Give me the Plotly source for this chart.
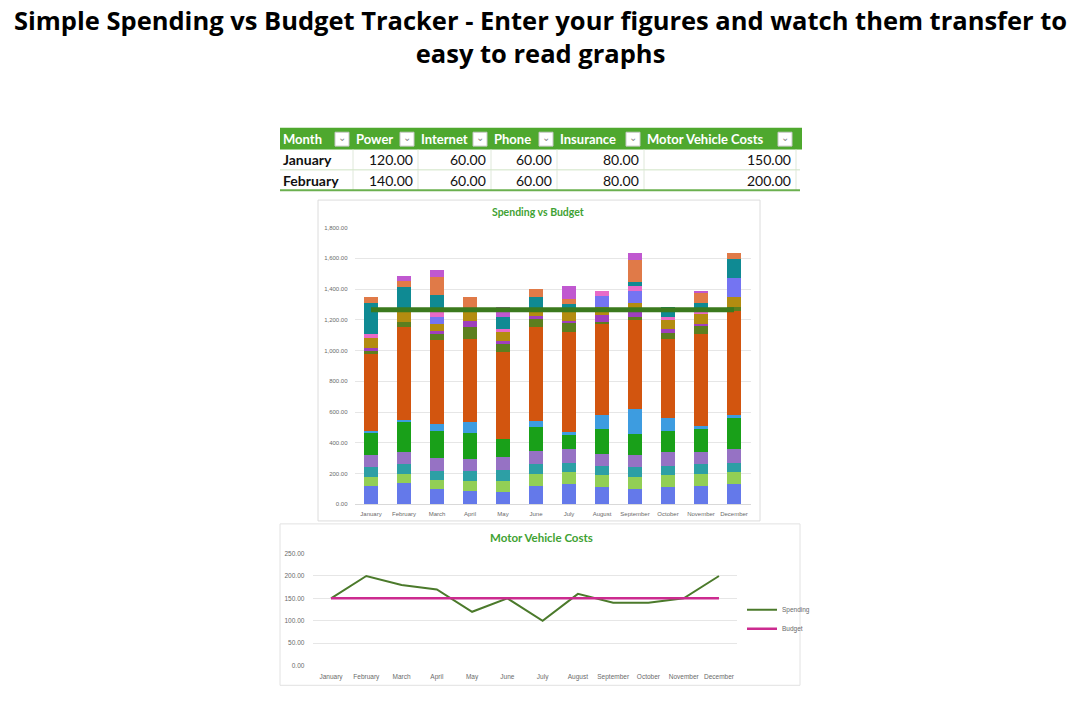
import plotly.graph_objects as go

W, H = 1080, 720

# ---------------- data ----------------
title_lines = ["Simple Spending vs Budget Tracker - Enter your figures and watch them transfer to",
               "easy to read graphs"]

months = ["January", "February", "March", "April", "May", "June", "July",
          "August", "September", "October", "November", "December"]

table_headers = ["Month", "Power", "Internet", "Phone", "Insurance", "Motor Vehicle Costs"]
table_months = ["January", "February"]
table_power = [120, 140]
table_internet = [60, 60]
table_phone = [60, 60]
table_insurance = [80, 80]
table_motor = [150, 200]

# stacked spending categories (bottom -> top)
power = [120, 140, 100, 90, 80, 120, 130, 110, 100, 110, 120, 130]
internet = [60, 60, 60, 65, 75, 80, 80, 80, 80, 80, 80, 80]
phone = [60, 60, 60, 60, 70, 65, 60, 60, 60, 60, 60, 60]
insurance = [80, 80, 80, 80, 80, 85, 90, 80, 80, 90, 80, 90]
motor = [150, 200, 180, 170, 120, 150, 100, 160, 140, 140, 150, 200]
water = [10, 10, 40, 70, 0, 40, 10, 90, 160, 80, 20, 20]
rent = [500, 600, 550, 540, 565, 610, 650, 590, 580, 515, 600, 675]
groceries = [20, 35, 40, 75, 55, 55, 60, 15, 20, 40, 50, 30]
medical = [15, 0, 15, 40, 20, 20, 15, 45, 30, 25, 15, 0]
fuel = [65, 65, 50, 65, 65, 35, 65, 55, 60, 60, 60, 60]
clothing = [0, 0, 45, 0, 0, 0, 0, 70, 75, 0, 0, 125]
gifts = [30, 0, 35, 0, 10, 0, 0, 30, 35, 20, 15, 0]
entertainment = [200, 165, 105, 0, 80, 85, 45, 0, 25, 60, 60, 125]
dining = [40, 40, 120, 90, 0, 55, 30, 0, 145, 0, 65, 40]
other = [0, 30, 45, 0, 65, 0, 85, 0, 45, 0, 15, 0]

budget_total = [1265, 1265, 1265, 1265, 1265, 1265, 1265, 1265, 1265, 1265, 1265, 1265]

motor_spending = [150, 200, 180, 170, 120, 150, 100, 160, 140, 140, 150, 200]
motor_budget = [150, 150, 150, 150, 150, 150, 150, 150, 150, 150, 150, 150]

series = [
    ("Power", power, "#6479ea"),
    ("Internet", internet, "#92cf55"),
    ("Phone", phone, "#2d9fa5"),
    ("Insurance", insurance, "#9672c4"),
    ("Motor Vehicle Costs", motor, "#19a019"),
    ("Water", water, "#3d9ce0"),
    ("Rent", rent, "#d2550f"),
    ("Groceries", groceries, "#5c7f1f"),
    ("Medical", medical, "#9e3fbe"),
    ("Fuel", fuel, "#b38c10"),
    ("Clothing", clothing, "#7474f2"),
    ("Gifts", gifts, "#e86ac8"),
    ("Entertainment", entertainment, "#0f8a93"),
    ("Dining", dining, "#e07a48"),
    ("Other", other, "#c058d0"),
]

# ---------------- helpers ----------------
def px(x):
    return x / W

def py(y):
    return (H - y) / H

fig = go.Figure()
shapes = []
annotations = []

# ---------------- table (drawn from the table arrays) ----------------
TBL_LEFT = 280
col_right = [353, 418, 491, 557, 644, 796]
HDR_TOP, HDR_BOT = 125, 147
ROW_H = 20.5
GREEN = "#4ea82e"
tbl_font = "Lato"

shapes.append(dict(type="rect", xref="paper", yref="paper", x0=px(TBL_LEFT), x1=px(802),
                   y0=py(HDR_BOT), y1=py(HDR_TOP), fillcolor=GREEN, line=dict(width=0), layer="below"))
left = TBL_LEFT
for i, h in enumerate(table_headers):
    r = col_right[i]
    annotations.append(dict(xref="paper", yref="paper", x=px(left + 1), y=py(136.5),
                            xanchor="left", yanchor="middle", showarrow=False,
                            text="<b>%s</b>" % h,
                            font=dict(family=tbl_font, size=13, color="white")))
    # dropdown box
    bx0, bx1 = r - 18, r - 4
    shapes.append(dict(type="rect", xref="paper", yref="paper", x0=px(bx0), x1=px(bx1),
                       y0=py(143.5), y1=py(129.5), fillcolor="white",
                       line=dict(color="#c8c8c8", width=1)))
    annotations.append(dict(xref="paper", yref="paper", x=px((bx0 + bx1) / 2), y=py(135),
                            text="⌄", showarrow=False, yanchor="middle", xanchor="center",
                            font=dict(size=10, color="#8a8a8a", family="DejaVu Sans")))
    left = r

rows = list(zip(table_months, table_power, table_internet, table_phone, table_insurance, table_motor))
for ri, row in enumerate(rows):
    top = HDR_BOT + ri * ROW_H
    ymid = top + ROW_H / 2
    left = TBL_LEFT
    for ci, val in enumerate(row):
        r = col_right[ci]
        if ci == 0:
            annotations.append(dict(xref="paper", yref="paper", x=px(left + 1), y=py(ymid),
                                    xanchor="left", yanchor="middle", showarrow=False,
                                    text="<b>%s</b>" % val,
                                    font=dict(family=tbl_font, size=14, color="#111111")))
        else:
            annotations.append(dict(xref="paper", yref="paper", x=px(r - 3), y=py(ymid),
                                    xanchor="right", yanchor="middle", showarrow=False,
                                    text="%.2f" % val,
                                    font=dict(family=tbl_font, size=14, color="#111111")))
        # vertical separator
        shapes.append(dict(type="line", xref="paper", yref="paper", x0=px(r), x1=px(r),
                           y0=py(top + ROW_H), y1=py(top), line=dict(color="#dfe8da", width=1)))
        left = r
    bottom = top + ROW_H
    last = ri == len(rows) - 1
    shapes.append(dict(type="line", xref="paper", yref="paper", x0=px(TBL_LEFT), x1=px(800),
                       y0=py(bottom), y1=py(bottom),
                       line=dict(color="#6bb04f" if last else "#cfe3c4", width=2 if last else 1)))

# ---------------- bar chart ----------------
for name, vals, color in series:
    fig.add_trace(go.Bar(x=months, y=vals, name=name, marker=dict(color=color, line=dict(width=0)),
                         xaxis="x", yaxis="y", showlegend=False))

fig.add_trace(go.Scatter(x=months, y=budget_total, mode="lines", name="Budget total",
                         line=dict(color="#3b7a1e", width=5), xaxis="x", yaxis="y",
                         showlegend=False))

# ---------------- line chart ----------------
fig.add_trace(go.Scatter(x=months, y=motor_spending, mode="lines", name="Spending",
                         line=dict(color="#4b7a2b", width=2), xaxis="x2", yaxis="y2"))
fig.add_trace(go.Scatter(x=months, y=motor_budget, mode="lines", name="Budget",
                         line=dict(color="#cc2b8f", width=2.5), xaxis="x2", yaxis="y2"))

# panel borders
shapes.append(dict(type="rect", xref="paper", yref="paper", x0=px(318), x1=px(760),
                   y0=py(522), y1=py(198), line=dict(color="#dcdcdc", width=1)))
shapes.append(dict(type="rect", xref="paper", yref="paper", x0=px(280), x1=px(800),
                   y0=py(688), y1=py(525), line=dict(color="#e2e2e2", width=1)))

# title & chart titles
annotations.append(dict(xref="paper", yref="paper", x=0.5, y=py(-3), yanchor="top",
                        text="<b>" + "<br>".join(title_lines) + "</b>", showarrow=False,
                        font=dict(family="Open Sans", size=25.5, color="#000000")))
annotations.append(dict(xref="paper", yref="paper", x=px(538), y=py(210), yanchor="middle",
                        text="<b>Spending vs Budget</b>", showarrow=False,
                        font=dict(family="Lato", size=10.5, color="#3fa233")))
annotations.append(dict(xref="paper", yref="paper", x=px(541), y=py(539), yanchor="middle",
                        text="<b>Motor Vehicle Costs</b>", showarrow=False,
                        font=dict(family="Lato", size=11.5, color="#3fa233")))

tick_font = dict(family="Liberation Sans", size=6, color="#6a6a6a")
tick_font2 = dict(family="Liberation Sans", size=6.5, color="#6a6a6a")

fig.update_layout(
    width=W, height=H,
    margin=dict(l=0, r=0, t=0, b=0),
    paper_bgcolor="white", plot_bgcolor="white",
    barmode="stack", bargap=0.58,
    shapes=shapes, annotations=annotations,
    xaxis=dict(domain=[px(354.5), px(750.5)], anchor="y", type="category", range=[-0.5, 11.5],
               showgrid=False, showline=True, linecolor="#d9d9d9", ticks="",
               tickfont=tick_font, ticklabelstandoff=3),
    yaxis=dict(domain=[py(505.3), py(225.7)], anchor="x", range=[0, 1800], dtick=200,
               tickformat=",.2f", showgrid=True, gridcolor="#e6e6e6", zeroline=False,
               showline=False, ticks="", tickfont=tick_font, ticklabelstandoff=6),
    xaxis2=dict(domain=[px(313.4), px(736.6)], anchor="y2", type="category", range=[-0.5, 11.5],
                showgrid=False, showline=False, ticks="", tickfont=tick_font2,
                ticklabelstandoff=6),
    yaxis2=dict(domain=[py(668), py(555)], anchor="x2", range=[0, 250], dtick=50,
                tickformat=".2f", showgrid=True, gridcolor="#e6e6e6", zeroline=False,
                showline=False, ticks="", tickfont=tick_font2, ticklabelstandoff=8),
    legend=dict(x=px(742), y=py(597), xanchor="left", yanchor="top", traceorder="normal",
                font=dict(family="Liberation Sans", size=6.5, color="#6a6a6a"),
                bgcolor="rgba(0,0,0,0)", itemwidth=30, tracegroupgap=0),
)

fig.write_html("out.html")
